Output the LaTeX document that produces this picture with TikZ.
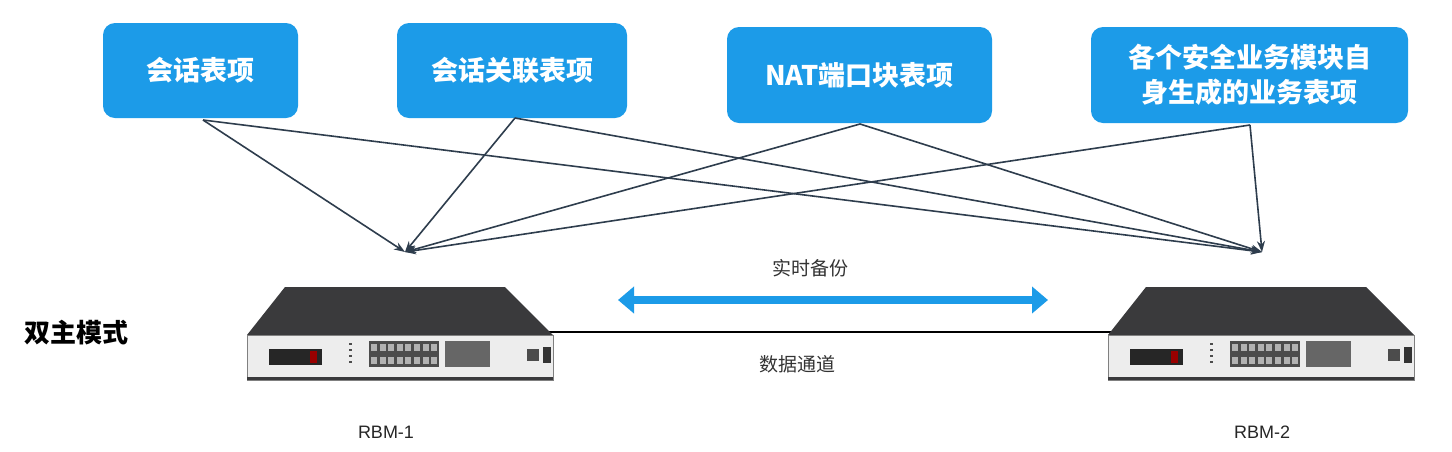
\documentclass[tikz,border=0pt]{standalone}
\usepackage{fontspec}
\setmainfont{Liberation Sans}
\newfontfamily\cjk{Noto Sans CJK SC}
\usetikzlibrary{arrows.meta}
\definecolor{boxblue}{HTML}{1C9BE8}
\definecolor{lnc}{HTML}{2E3D4D}
\definecolor{body}{HTML}{3A3A3C}
\definecolor{panel}{HTML}{EDEDED}
\tikzset{
 box/.style={fill=boxblue,rounded corners=12pt,text=white,align=center,font=\cjk\bfseries\fontsize{27}{35}\selectfont,inner sep=0pt},
 ln/.style={lnc,line width=1.6pt,-{Stealth[length=11pt,width=8pt]}},
 lab/.style={font=\cjk\fontsize{19}{21}\selectfont,text=black!80}
}
\newcommand{\device}[2]{%
 \begin{scope}[shift={(#1,#2)}]
 \fill[body] (38,0) -- (258,0) -- (306,48) -- (0,48) -- cycle;
 \fill[panel] (0,48) rectangle (306,93);
 \draw[black!50,line width=0.8pt] (0,48) rectangle (306,93);
 \fill[body] (0,90) rectangle (306,93);
 \fill[black!85] (22,62) rectangle (75,78);
 \fill[red!60!black] (63,64) rectangle (70,76);
 \fill[black!70] (122,54) rectangle (192,80);
 \foreach \i in {0,...,7}{\fill[white!70!black] (124+\i*8.6,57) rectangle (130+\i*8.6,64);\fill[white!70!black] (124+\i*8.6,70) rectangle (130+\i*8.6,77);}
 \fill[black!60] (198,54) rectangle (243,80);
 \fill[black!70] (280,62) rectangle (292,74);
 \fill[black!80] (296,60) rectangle (304,76);
 \foreach \j in {0,...,3}{\fill[black!70] (102,56+\j*6) rectangle (105,58+\j*6);}
 \end{scope}}
\begin{document}
\begin{tikzpicture}[x=1pt,y=-1pt]
\useasboundingbox[fill=white] (0,0) rectangle (1452,451);
\node[box,minimum width=195pt,minimum height=95pt] (b1) at (200.5,70.5) {会话表项};
\node[box,minimum width=230pt,minimum height=95pt] (b2) at (512,70.5) {会话关联表项};
\node[box,minimum width=265pt,minimum height=96pt] (b3) at (859.5,75) {NAT端口块表项};
\node[box,minimum width=317pt,minimum height=96pt] (b4) at (1249.5,75) {各个安全业务模块自\\身生成的业务表项};
\coordinate (t1) at (405,252);
\coordinate (t2) at (1262,252);
\coordinate (s1) at (203,120);
\coordinate (s2) at (515,118);
\coordinate (s3) at (860,124);
\coordinate (s4) at (1250,125);
\foreach \s in {s1,s2,s3,s4}{\draw[ln] (\s) -- (t1); \draw[ln] (\s) -- (t2);}
\coordinate (c1) at (540,332);
\coordinate (c2) at (1130,332);
\draw[black,line width=2pt] (c1) -- (c2);
\device{247}{287}
\device{1108}{287}
\coordinate (a1) at (618,300);
\coordinate (a2) at (1048,300);
\draw[boxblue,line width=8pt,{Triangle[length=16pt,width=26pt]}-{Triangle[length=16pt,width=26pt]}] (a1) -- (a2);
\node[lab] (sb) at (810,268) {实时备份};
\node[lab] (sj) at (797,364) {数据通道};
\node[font=\cjk\bfseries\fontsize{26}{30}\selectfont] (mode) at (76,333) {双主模式};
\node[font=\fontsize{18}{20}\selectfont,text=black!85] (r1) at (386,432) {RBM-1};
\node[font=\fontsize{18}{20}\selectfont,text=black!85] (r2) at (1262,432) {RBM-2};
\end{tikzpicture}
\end{document}
